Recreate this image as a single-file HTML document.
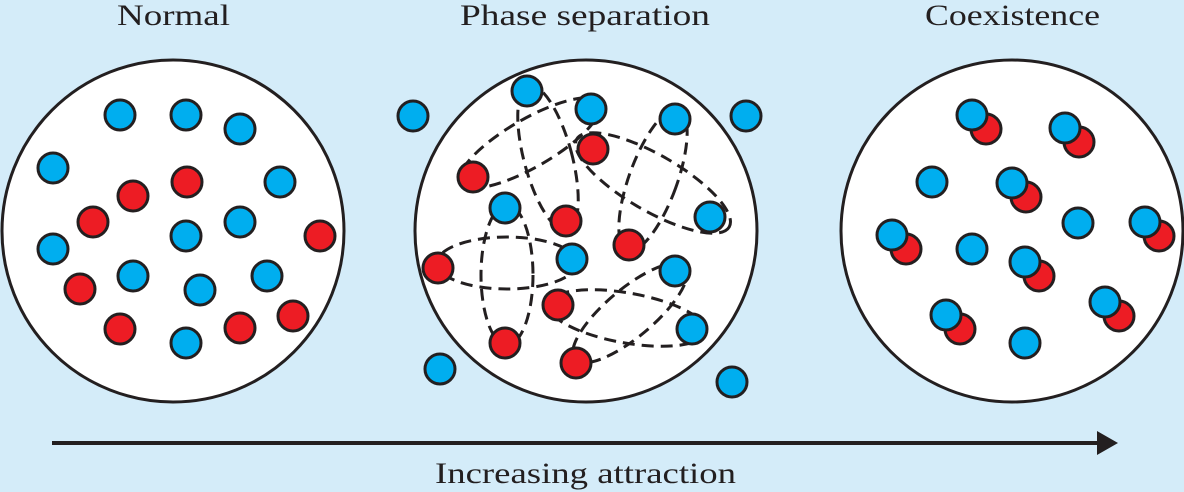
<!DOCTYPE html>
<html><head><meta charset="utf-8"><style>
html,body{margin:0;padding:0;background:#d4ecf9;}
svg{display:block}
</style></head><body>
<svg width="1184" height="492" viewBox="0 0 1184 492" xmlns="http://www.w3.org/2000/svg">
<rect width="1184" height="492" fill="#d4ecf9"/>
<g font-family="'Liberation Serif', serif" font-size="30" fill="#231f20">
<text x="117" y="25" textLength="113" lengthAdjust="spacingAndGlyphs">Normal</text>
<text x="460" y="25" textLength="250" lengthAdjust="spacingAndGlyphs">Phase separation</text>
<text x="925" y="25" textLength="175" lengthAdjust="spacingAndGlyphs">Coexistence</text>
<text x="435" y="483" textLength="301" lengthAdjust="spacingAndGlyphs">Increasing attraction</text>
</g>
<line x1="52" y1="443" x2="1100" y2="443" stroke="#231f20" stroke-width="4"/>
<polygon points="1097,431 1118,443 1097,455" fill="#231f20"/>
<g fill="#fff" stroke="#231f20" stroke-width="3">
<circle cx="173" cy="231" r="171"/>
<circle cx="586" cy="231" r="171"/>
<circle cx="1012" cy="231" r="171"/>
</g>
<g fill="none" stroke="#231f20" stroke-width="3" stroke-dasharray="12 7">
<ellipse cx="548" cy="158" rx="24" ry="75" transform="rotate(-15 548 158)"/>
<ellipse cx="530" cy="143" rx="80" ry="24" transform="rotate(-30 530 143)"/>
<ellipse cx="653" cy="180" rx="24" ry="75" transform="rotate(20 653 180)"/>
<ellipse cx="653" cy="183" rx="88" ry="28" transform="rotate(30 653 183)"/>
<ellipse cx="507" cy="275" rx="26" ry="70"/>
<ellipse cx="507" cy="263" rx="70" ry="26"/>
<ellipse cx="630" cy="313" rx="72" ry="24" transform="rotate(-40 630 313)"/>
<ellipse cx="627" cy="318" rx="80" ry="25" transform="rotate(10 627 318)"/>
</g>
<g stroke="#231f20" stroke-width="3">
<g fill="#00aeef">
<circle cx="120" cy="115" r="15"/><circle cx="186" cy="115" r="15"/><circle cx="240" cy="129" r="15"/>
<circle cx="53" cy="168" r="15"/><circle cx="280" cy="182" r="15"/><circle cx="240" cy="222" r="15"/>
<circle cx="186" cy="236" r="15"/><circle cx="53" cy="249" r="15"/><circle cx="133" cy="276" r="15"/>
<circle cx="200" cy="290" r="15"/><circle cx="267" cy="276" r="15"/><circle cx="186" cy="343" r="15"/>
<circle cx="413" cy="116" r="15"/><circle cx="527" cy="91" r="15"/><circle cx="591" cy="109" r="15"/>
<circle cx="675" cy="119" r="15"/><circle cx="746" cy="116" r="15"/><circle cx="505" cy="208" r="15"/>
<circle cx="710" cy="217" r="15"/><circle cx="572" cy="259" r="15"/><circle cx="675" cy="271" r="15"/>
<circle cx="692" cy="329" r="15"/><circle cx="440" cy="369" r="15"/><circle cx="732" cy="382" r="15"/>
</g>
<g fill="#ed1c24">
<circle cx="133" cy="196" r="15"/><circle cx="187" cy="182" r="15"/><circle cx="93" cy="222" r="15"/>
<circle cx="320" cy="236" r="15"/><circle cx="80" cy="289" r="15"/><circle cx="120" cy="329" r="15"/>
<circle cx="240" cy="328" r="15"/><circle cx="293" cy="316" r="15"/>
<circle cx="593" cy="149" r="15"/><circle cx="473" cy="177" r="15"/><circle cx="566" cy="221" r="15"/>
<circle cx="629" cy="245" r="15"/><circle cx="438" cy="268" r="15"/><circle cx="558" cy="305" r="15"/>
<circle cx="505" cy="343" r="15"/><circle cx="576" cy="363" r="15"/>
</g>
<g fill="#ed1c24">
<circle cx="986" cy="129" r="15"/><circle cx="1079" cy="142" r="15"/><circle cx="1026" cy="197" r="15"/>
<circle cx="906" cy="249" r="15"/><circle cx="1159" cy="236" r="15"/><circle cx="1039" cy="276" r="15"/>
<circle cx="960" cy="329" r="15"/><circle cx="1119" cy="316" r="15"/>
</g>
<g fill="#00aeef">
<circle cx="972" cy="115" r="15"/><circle cx="1065" cy="128" r="15"/><circle cx="1012" cy="183" r="15"/>
<circle cx="892" cy="235" r="15"/><circle cx="1145" cy="222" r="15"/><circle cx="1025" cy="262" r="15"/>
<circle cx="946" cy="315" r="15"/><circle cx="1105" cy="302" r="15"/>
<circle cx="932" cy="182" r="15"/><circle cx="1078" cy="223" r="15"/><circle cx="972" cy="249" r="15"/>
<circle cx="1025" cy="343" r="15"/>
</g>
</g>
</svg>
</body></html>
